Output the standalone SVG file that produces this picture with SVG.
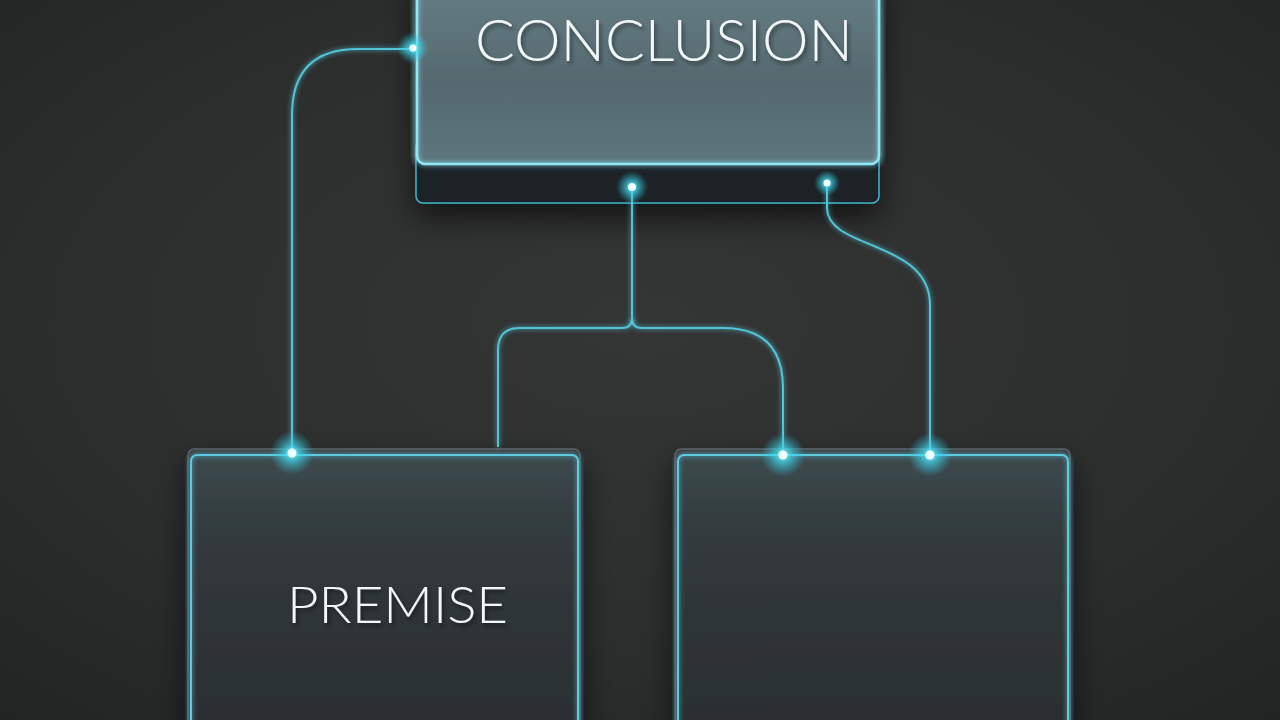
<svg xmlns="http://www.w3.org/2000/svg" width="1280" height="720" viewBox="0 0 1280 720">
  <defs>
    <radialGradient id="bg" cx="0.5" cy="0.45" r="0.75">
      <stop offset="0" stop-color="#343535"/>
      <stop offset="0.6" stop-color="#2c2d2d"/>
      <stop offset="1" stop-color="#222323"/>
    </radialGradient>
    <linearGradient id="concFill" x1="0" y1="0" x2="0" y2="1">
      <stop offset="0" stop-color="#677e86"/>
      <stop offset="0.55" stop-color="#55696f"/>
      <stop offset="1" stop-color="#5c757d"/>
    </linearGradient>
    <linearGradient id="boxFill" x1="0" y1="0" x2="0" y2="1">
      <stop offset="0" stop-color="#3c4a4e"/>
      <stop offset="0.25" stop-color="#323a3c"/>
      <stop offset="1" stop-color="#282b2c"/>
    </linearGradient>
    <filter id="shadow" x="-30%" y="-30%" width="160%" height="160%">
      <feDropShadow dx="0" dy="14" stdDeviation="16" flood-color="#000" flood-opacity="0.6"/>
    </filter>
    <filter id="glow" x="-20%" y="-20%" width="140%" height="140%">
      <feGaussianBlur stdDeviation="2.5" result="b"/>
      <feMerge><feMergeNode in="b"/><feMergeNode in="SourceGraphic"/></feMerge>
    </filter>
    <radialGradient id="haloGrad">
      <stop offset="0" stop-color="#bff8ff" stop-opacity="1"/>
      <stop offset="0.3" stop-color="#45dcf2" stop-opacity="0.75"/>
      <stop offset="1" stop-color="#2bbfd8" stop-opacity="0"/>
    </radialGradient>
    <filter id="textShadow" x="-10%" y="-30%" width="120%" height="160%">
      <feDropShadow dx="2" dy="3" stdDeviation="2" flood-color="#000" flood-opacity="0.45"/>
    </filter>
    <style>
      .wire { fill: none; stroke: #52c4d6; stroke-width: 2; filter: url(#glow); }
      .halo { fill: url(#haloGrad); }
      .core { fill: #f0ffff; }
      .label { font-family: "Lato", "Liberation Sans", sans-serif; font-weight: 300; fill: #f2f7f8; filter: url(#textShadow); }
      .edge { fill: none; stroke: #5ccbe0; stroke-width: 2; filter: url(#glow); }
    </style>
  </defs>

  <rect width="1280" height="720" fill="url(#bg)"/>

  <g id="node-premise" filter="url(#shadow)">
    <rect x="188" y="449" width="392" height="320" rx="6" fill="#3b3f41" stroke="#5a6366" stroke-width="1.5"/>
    <rect x="191" y="455" width="387" height="320" rx="6" fill="url(#boxFill)"/>
    <rect x="191" y="455" width="387" height="320" rx="6" class="edge"/>
    <text class="label" x="287" y="623" font-size="52" textLength="221" lengthAdjust="spacingAndGlyphs">PREMISE</text>
  </g>

  <g id="node-right" filter="url(#shadow)">
    <rect x="675" y="449" width="395" height="320" rx="6" fill="#3b3f41" stroke="#5a6366" stroke-width="1.5"/>
    <rect x="678" y="455" width="390" height="320" rx="6" fill="url(#boxFill)"/>
    <rect x="678" y="455" width="390" height="320" rx="6" class="edge"/>
  </g>

  <g id="node-conclusion" filter="url(#shadow)">
    <rect x="416" y="140" width="463" height="63" rx="7" fill="#1c2327" stroke="#3fb2c8" stroke-width="1.5"/>
    <rect x="417" y="-20" width="462" height="184" rx="8" fill="url(#concFill)"/>
    <rect x="417" y="-20" width="462" height="184" rx="8" fill="none" stroke="#8fe6f4" stroke-width="2.5" filter="url(#glow)"/>
    <line x1="422" y1="162" x2="874" y2="162" stroke="#c8fbff" stroke-width="3" filter="url(#glow)"/>
    <text class="label" x="475" y="61" font-size="58" textLength="378" lengthAdjust="spacingAndGlyphs">CONCLUSION</text>
  </g>

  <g id="connectors">
    <path class="wire" d="M413,49 H358 Q292,49 292,115 V453"/>
    <path class="wire" d="M632,187 V318 Q632,328 622,328 H520 Q498,328 498,350 V447"/>
    <path class="wire" d="M632,318 Q632,328 642,328 H723 Q783,328 783,388 V455"/>
    <path class="wire" d="M827,183 V208 C827,250 930,240 930,305 V455"/>
    <g id="dots">
      <circle class="halo" cx="413" cy="48" r="16"/><circle class="core" cx="413" cy="48" r="3.5"/>
      <circle class="halo" cx="632" cy="187" r="16"/><circle class="core" cx="632" cy="187" r="4"/>
      <circle class="halo" cx="827" cy="183" r="13"/><circle class="core" cx="827" cy="183" r="3.5"/>
      <circle class="halo" cx="292" cy="453" r="22"/><circle class="core" cx="292" cy="453" r="4.5"/>
      <circle class="halo" cx="783" cy="455" r="22"/><circle class="core" cx="783" cy="455" r="4.5"/>
      <circle class="halo" cx="930" cy="455" r="22"/><circle class="core" cx="930" cy="455" r="4.5"/>
    </g>
  </g>
</svg>
